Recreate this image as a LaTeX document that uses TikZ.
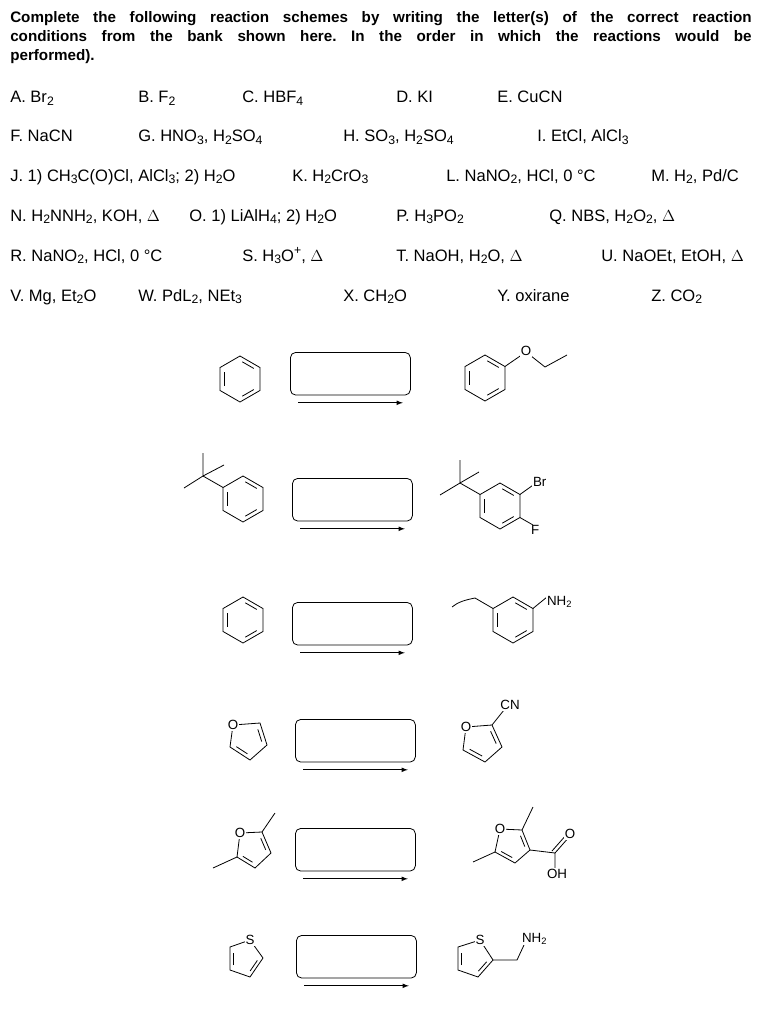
\documentclass[tikz,border=0pt]{standalone}
\usepackage{fontspec}
\setmainfont{Liberation Sans}
\usetikzlibrary{calc}
\frenchspacing
\newcommand\subs[1]{\raisebox{-0.3ex}{\fontsize{9.2}{9}\selectfont #1}}
\newcommand\supsc[1]{\raisebox{0.8ex}{\fontsize{9.2}{9}\selectfont #1}}
\tikzset{
 reag/.style={anchor=base west,inner sep=0,font=\fontsize{12.4}{13}\selectfont},
 bond/.style={line width=0.6pt},
 atom/.style={fill=white,inner sep=0.6pt,font=\fontsize{10}{12}\selectfont},
 cbox/.style={draw,line width=0.6pt,rounded corners=4pt},
 rarr/.style={line width=0.6pt,-latex}
}
\newcommand\benz[3]{% name, x, y
 \coordinate (#1) at (#2,#3);
 \draw[bond] ([shift={(#1)}]90:23) \foreach \a in {150,210,270,330,30} {-- ([shift={(#1)}]\a:23)} -- cycle;
 \foreach \a in {30,150,270} \draw[bond,shorten <=2pt,shorten >=2pt] ([shift={(#1)}]\a:18.5) -- ([shift={(#1)}]\a+60:18.5);}
\newcommand\dbl[3]{\draw[bond,shorten <=1.8pt,shorten >=1.8pt] ($(#1)!.24!(#3)$) -- ($(#2)!.24!(#3)$);}
\begin{document}
\begin{tikzpicture}[x=0.75pt,y=-0.75pt]
\useasboundingbox (0,0) rectangle (768,1024);
% title
\begin{scope}[every node/.style={anchor=base west,inner sep=0,font=\bfseries\fontsize{11.4}{13}\selectfont}]
\node (t1) at (10,23) {\makebox[556pt][s]{Complete the following reaction schemes by writing the letter(s) of the correct reaction}};
\node (t2) at (10,42) {\makebox[556pt][s]{conditions from the bank shown here. In the order in which the reactions would be}};
\node (t3) at (10,61) {performed).};
\end{scope}
% bank
\node[reag] (A) at (10,103) {A. Br\subs{2}};
\node[reag] (B) at (138,103) {B. F\subs{2}};
\node[reag] (C) at (242,103) {C. HBF\subs{4}};
\node[reag] (D) at (396,103) {D. KI};
\node[reag] (E) at (497,103) {E. CuCN};
\node[reag] (F) at (10,142) {F. NaCN};
\node[reag] (G) at (138,142) {G. HNO\subs{3}, H\subs{2}SO\subs{4}};
\node[reag] (H) at (343,142) {H. SO\subs{3}, H\subs{2}SO\subs{4}};
\node[reag] (I) at (537,142) {I. EtCl, AlCl\subs{3}};
\node[reag] (J) at (10,181) {J. 1) CH\subs{3}C(O)Cl, AlCl\subs{3}; 2) H\subs{2}O};
\node[reag] (K) at (292,181) {K. H\subs{2}CrO\subs{3}};
\node[reag] (L) at (446,181) {L. NaNO\subs{2}, HCl, 0 °C};
\node[reag] (M) at (651,181) {M. H\subs{2}, Pd/C};
\node[reag] (N) at (10,221) {N. H\subs{2}NNH\subs{2}, KOH, $\Delta$};
\node[reag] (O) at (189,221) {O. 1) LiAlH\subs{4}; 2) H\subs{2}O};
\node[reag] (P) at (396,221) {P. H\subs{3}PO\subs{2}};
\node[reag] (Q) at (549,221) {Q. NBS, H\subs{2}O\subs{2}, $\Delta$};
\node[reag] (R) at (10,261) {R. NaNO\subs{2}, HCl, 0 °C};
\node[reag] (S) at (242,261) {S. H\subs{3}O\supsc{+}, $\Delta$};
\node[reag] (T) at (396,261) {T. NaOH, H\subs{2}O, $\Delta$};
\node[reag] (U) at (601,261) {U. NaOEt, EtOH, $\Delta$};
\node[reag] (V) at (10,301) {V. Mg, Et\subs{2}O};
\node[reag] (W) at (138,301) {W. PdL\subs{2}, NEt\subs{3}};
\node[reag] (X) at (343,301) {X. CH\subs{2}O};
\node[reag] (Y) at (497,301) {Y. oxirane};
\node[reag] (Z) at (651,301) {Z. CO\subs{2}};
% boxes and arrows
\foreach \n/\x/\y in {1/290/352,2/292/478,3/292/602,4/295/719,5/295/828,6/296/935}{
 \node[cbox,minimum width=90pt,minimum height=32pt,anchor=north west] (box\n) at (\x,\y) {};
 \coordinate (as\n) at ([xshift=6pt,yshift=-5.5pt]box\n.south west);
 \coordinate (ae\n) at ([xshift=-6pt,yshift=-5.5pt]box\n.south east);
 \draw[rarr] (as\n) -- (ae\n);}
% row1
\benz{r1a}{240}{379}
\benz{r1b}{485}{378}
\draw[bond] ([shift={(r1b)}]330:23) -- (526,352) -- (545,367) -- (567,355);
\node[atom] (o1) at (526,351) {O};
% row2
\benz{r2a}{243}{499}
\coordinate (q2) at (203,476);
\draw[bond] ([shift={(r2a)}]210:23) -- (q2);
\draw[bond] (q2) -- (203,453) (q2) -- (184,488) (q2) -- (224,465);
\benz{r2b}{500}{506}
\coordinate (q2b) at (460,483);
\draw[bond] ([shift={(r2b)}]210:23) -- (q2b);
\draw[bond] (q2b) -- (460,460) (q2b) -- (440,495) (q2b) -- (479,472);
\draw[bond] ([shift={(r2b)}]330:23) -- (536,483);
\draw[bond] ([shift={(r2b)}]30:23) -- (533,525);
\node[atom,anchor=west] (br) at (532,482) {Br};
\node[atom,anchor=west] (f) at (530,530) {F};
% row3
\benz{r3a}{243}{620}
\benz{r3b}{513}{620}
\draw[bond] ([shift={(r3b)}]210:23) -- (475,598) .. controls (465,600) and (458,602) .. (452,607);
\draw[bond] ([shift={(r3b)}]330:23) -- (547,597);
\node[atom,anchor=west] (nh1) at (546,602) {NH\textsubscript{2}};
% row4
\coordinate (a1) at (233,725); \coordinate (a2) at (260,723); \coordinate (a3) at (267,745);
\coordinate (a4) at (250,760); \coordinate (a5) at (230,747); \coordinate (ga) at (248,740);
\draw[bond] (a1)--(a2)--(a3)--(a4)--(a5)--cycle; \dbl{a2}{a3}{ga} \dbl{a4}{a5}{ga}
\node[atom] (oa) at (a1) {O};
\coordinate (b1) at (466,727); \coordinate (b2) at (492,725); \coordinate (b3) at (502,747);
\coordinate (b4) at (485,762); \coordinate (b5) at (463,750); \coordinate (gb) at (482,742);
\draw[bond] (b1)--(b2)--(b3)--(b4)--(b5)--cycle; \dbl{b2}{b3}{gb} \dbl{b4}{b5}{gb}
\draw[bond] (b2) -- (504,710);
\node[atom] (ob) at (b1) {O};
\node[atom] (cn) at (510,705) {CN};
% row5
\coordinate (c1) at (240,833); \coordinate (c2) at (262,832); \coordinate (c3) at (271,853);
\coordinate (c4) at (255,868); \coordinate (c5) at (237,857); \coordinate (gc) at (253,849);
\draw[bond] (c1)--(c2)--(c3)--(c4)--(c5)--cycle; \dbl{c2}{c3}{gc} \dbl{c4}{c5}{gc}
\draw[bond] (c2) -- (275,813) (c5) -- (213,868);
\node[atom] (oc) at (c1) {O};
\coordinate (d1) at (500,829); \coordinate (d2) at (522,830); \coordinate (d3) at (530,850);
\coordinate (d4) at (515,863); \coordinate (d5) at (495,852); \coordinate (gd) at (512,845);
\draw[bond] (d1)--(d2)--(d3)--(d4)--(d5)--cycle; \dbl{d2}{d3}{gd} \dbl{d4}{d5}{gd}
\draw[bond] (d2) -- (533,807) (d5) -- (473,862);
\coordinate (cc) at (555,853);
\draw[bond] (d3) -- (cc) -- (555,870);
\draw[bond] (cc) -- (570,836) ($(cc)+(-3,-2)$) -- ($(570,836)+(-3,-2)$);
\node[atom] (od) at (d1) {O};
\node[atom] (o2) at (570,834) {O};
\node[atom] (oh) at (557,874) {OH};
% row6
\coordinate (e1) at (250,940); \coordinate (e2) at (263,958); \coordinate (e3) at (250,977);
\coordinate (e4) at (230,970); \coordinate (e5) at (230,947); \coordinate (ge) at (245,960);
\draw[bond] (e1)--(e2)--(e3)--(e4)--(e5)--cycle; \dbl{e2}{e3}{ge} \dbl{e4}{e5}{ge}
\node[atom] (sa) at (e1) {S};
\coordinate (f1) at (480,940); \coordinate (f2) at (493,960); \coordinate (f3) at (478,977);
\coordinate (f4) at (458,970); \coordinate (f5) at (458,947); \coordinate (gf) at (473,960);
\draw[bond] (f1)--(f2)--(f3)--(f4)--(f5)--cycle; \dbl{f2}{f3}{gf} \dbl{f4}{f5}{gf}
\draw[bond] (f2) -- (517,960) -- (524,945);
\node[atom] (sb) at (f1) {S};
\node[atom,anchor=west] (nh2) at (521,939) {NH\textsubscript{2}};
\end{tikzpicture}
\end{document}
